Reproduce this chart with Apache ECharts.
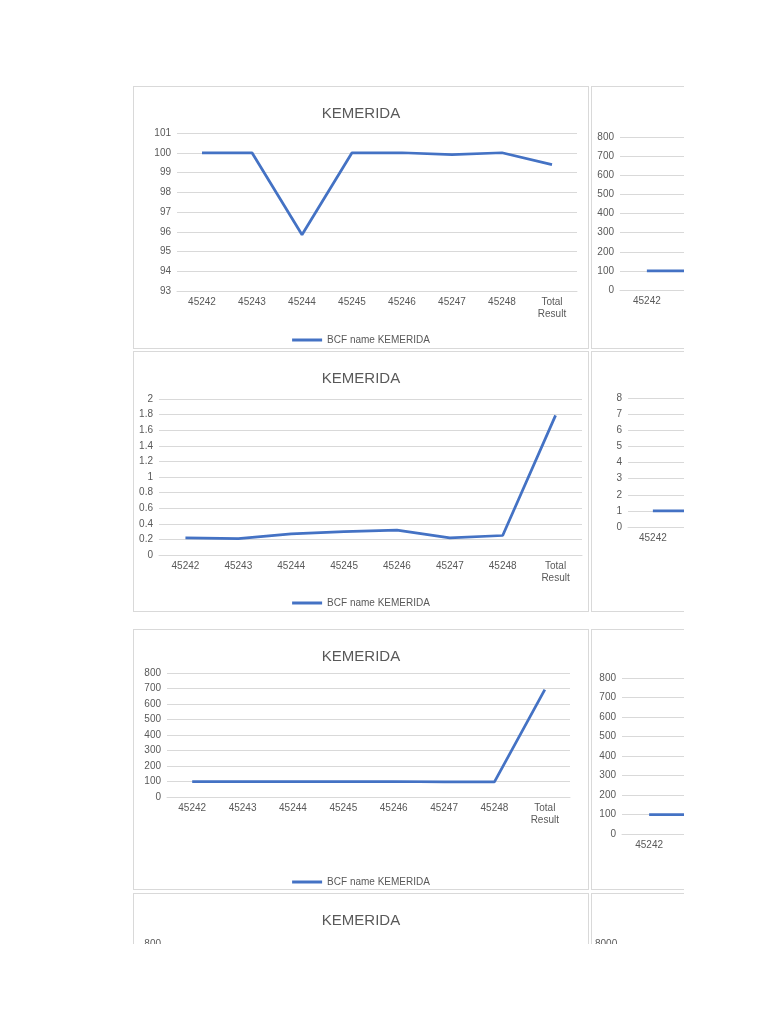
<!DOCTYPE html>
<html>
<head>
<meta charset="utf-8">
<script src="https://cdn.jsdelivr.net/npm/echarts@6/dist/echarts.min.js"></script>
<style>
  body { margin: 0; background: #fff; }
  #page { position: absolute; left: 0; top: 0; width: 684px; height: 944px; overflow: hidden; }
  .panel { position: absolute; border: 1px solid #D9D9D9; box-sizing: border-box; background: #fff; }
</style>
</head>
<body>
<div id="page">
  <div class="panel" id="p1" style="left:133px;top:86px;width:456px;height:263px"></div>
  <div class="panel" id="r1" style="left:591px;top:86px;width:480px;height:263px"></div>
  <div class="panel" id="p2" style="left:133px;top:351px;width:456px;height:261px"></div>
  <div class="panel" id="r2" style="left:591px;top:351px;width:480px;height:261px"></div>
  <div class="panel" id="p3" style="left:133px;top:629px;width:456px;height:261px"></div>
  <div class="panel" id="r3" style="left:591px;top:629px;width:480px;height:261px"></div>
  <div class="panel" id="p4" style="left:133px;top:893px;width:456px;height:261px"></div>
  <div class="panel" id="r4" style="left:591px;top:893px;width:480px;height:261px"></div>
</div>
<script>
// data
const categories = ['45242', '45243', '45244', '45245', '45246', '45247', '45248', 'Total Result']
const seriesName = 'BCF name KEMERIDA'
const chartTitle = 'KEMERIDA'

const percentValues = [100, 100, 95.85, 100, 100, 99.9, 100, 99.4]
const rateValues = [0.22, 0.21, 0.27, 0.30, 0.32, 0.22, 0.25, 1.79]
const countValues = [100, 99, 99, 100, 100, 98, 97, 693]
// right-hand charts are cut off, only the first point is visible
const rightCountValues = [100, 100]
const rightRateValues = [1, 1]
const rightCount2Values = [100, 100]

const textColor = '#595959'
const gridColor = '#D9D9D9'
const lineColor = '#4472C4'
const font = 'Liberation Sans, Arial, sans-serif'

function makePanel(id, cfg) {
    var chart = echarts.init(document.getElementById(id))
    var option = {
        animation: false,
        title: {
            text: chartTitle,
            left: cfg.titleLeft || 'center',
            top: 14,
            textStyle: { color: textColor, fontSize: 15, fontWeight: 'normal', fontFamily: font }
        },
        legend: {
            top: cfg.legendTop,
            left: 'center',
            itemWidth: 30,
            itemHeight: 3,
            textStyle: { color: textColor, fontSize: 10, fontFamily: font },
            data: [{ name: seriesName, icon: 'rect' }]
        },
        grid: cfg.grid,
        xAxis: {
            type: 'category',
            data: categories,
            axisTick: { show: false },
            axisLine: { lineStyle: { color: gridColor } },
            axisLabel: {
                interval: 0,
                color: textColor,
                fontSize: 10,
                fontFamily: font,
                lineHeight: 12,
                margin: 5,
                formatter: function (v) { return v.replace(' ', '\n') }
            }
        },
        yAxis: {
            type: 'value',
            min: cfg.min,
            max: cfg.max,
            interval: cfg.interval,
            axisLine: { show: false },
            axisTick: { show: false },
            splitLine: { lineStyle: { color: gridColor } },
            axisLabel: {
                color: textColor, fontSize: 10, fontFamily: font, margin: 6,
                formatter: function (v) { return String(v) }
            }
        },
        series: [
            {
                name: seriesName,
                type: 'line',
                symbol: 'none',
                data: cfg.data,
                lineStyle: { color: lineColor, width: 2.75 },
                itemStyle: { color: lineColor }
            }
        ]
    }
    chart.setOption(option)
}

makePanel('p1', { grid: { left: 43, right: 11, top: 46, bottom: 57 }, min: 93, max: 101, interval: 1, data: percentValues, legendTop: 243 })
makePanel('p2', { grid: { left: 25, right: 6, top: 47, bottom: 56 }, min: 0, max: 2, interval: 0.2, data: rateValues, legendTop: 241 })
makePanel('p3', { grid: { left: 33, right: 18, top: 43, bottom: 92 }, min: 0, max: 800, interval: 100, data: countValues, legendTop: 242 })
makePanel('p4', { grid: { left: 33, right: 18, top: 50, bottom: 85 }, min: 0, max: 800, interval: 100, data: [], legendTop: 242 })

makePanel('r1', { grid: { left: 28, right: 20, top: 50, bottom: 58 }, min: 0, max: 800, interval: 100, data: rightCountValues, legendTop: 243, titleLeft: 230 })
makePanel('r2', { grid: { left: 36, right: 44, top: 46, bottom: 84 }, min: 0, max: 8, interval: 1, data: rightRateValues, legendTop: 241, titleLeft: 230 })
makePanel('r3', { grid: { left: 30, right: 14, top: 48, bottom: 55 }, min: 0, max: 800, interval: 100, data: rightCount2Values, legendTop: 242, titleLeft: 230 })
makePanel('r4', { grid: { left: 30, right: 14, top: 50, bottom: 85 }, min: 0, max: 8000, interval: 1000, data: [], legendTop: 242, titleLeft: 230 })
</script>
</body>
</html>
